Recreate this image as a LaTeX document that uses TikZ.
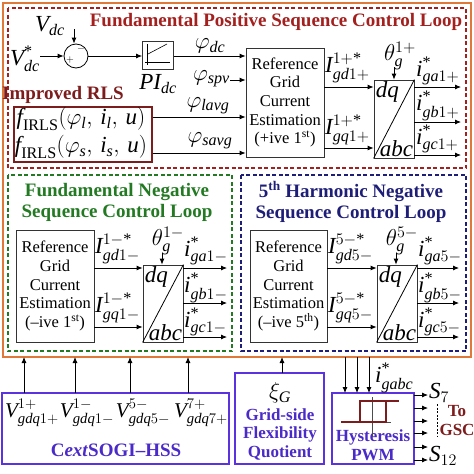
\RequirePackage{fix-cm}
\documentclass[tikz,border=0pt]{standalone}
\usepackage{amsmath}
\usepackage{fontspec}
\setmainfont{Liberation Serif}
\usetikzlibrary{arrows.meta}
\definecolor{orangeB}{HTML}{E0783A}
\definecolor{redD}{HTML}{A3201E}
\definecolor{greenD}{HTML}{237A23}
\definecolor{navyD}{HTML}{1E1E78}
\definecolor{purp}{HTML}{5A32E0}
\definecolor{purpT}{HTML}{4A2AC8}
\definecolor{rlsR}{HTML}{7D1C1C}
\definecolor{lineG}{HTML}{333333}
\newcommand\mt[1]{\text{\itshape #1}}
\newcommand\st{\text{*}}
\tikzset{
  blk/.style={draw=lineG, line width=0.8pt, inner sep=0pt},
  arr/.style={-{Latex[length=6pt,width=5pt]}, line width=0.8pt, draw=black},
  lbl/.style={font=\fontsize{23}{25}\selectfont, inner sep=0pt},
  vlbl/.style={font=\fontsize{21}{23}\selectfont, inner sep=0pt},
  reftxt/.style={font=\fontsize{16.5}{18.7}\selectfont, align=center},
  ttl/.style={font=\fontsize{19}{21}\selectfont\bfseries, align=center, inner sep=0pt},
  loopbox/.style={dash pattern=on 4pt off 2.5pt, line width=1.2pt},
  pbox/.style={draw=purp, line width=1.4pt, inner sep=0pt},
  ptxt/.style={font=\fontsize{17}{18.5}\selectfont\bfseries, text=purpT, align=center},
}
\begin{document}
\begin{tikzpicture}[x=1pt,y=-1pt]
\useasboundingbox (0,0) rectangle (474,474);
% outer boxes
\draw[draw=orangeB, line width=1.6pt] (3,3) rectangle (471,357);
\draw[loopbox, draw=redD] (8,8) rectangle (466,168);
\draw[loopbox, draw=greenD] (8,175) rectangle (232,351);
\draw[loopbox, draw=navyD] (241,175) rectangle (466,351);

% ===== positive loop =====
\node[ttl, text=redD] (t1) at (276,22) {Fundamental Positive Sequence Control Loop};
\node[lbl] (vdc) at (50,26) {$\mt{V}_{\mt{dc}}$};
\node[lbl, anchor=east] (vdcs) at (40,59) {$\mt{V}^{\st}_{\mt{dc}}$};
\node[draw=black, line width=0.8pt, circle, minimum size=24pt, inner sep=0pt] (sum) at (76,56) {};
\node[font=\fontsize{10}{10}\selectfont, inner sep=0pt] (pl) at (70,60) {$+$};
\node[font=\fontsize{10}{10}\selectfont, inner sep=0pt] (mi) at (81,49) {$-$};
\coordinate (vin) at (74,29);
\draw[arr] (vin) -- (vin |- sum.north);
\draw[arr] (vdcs.east |- sum) -- (sum.west);
\node[blk, minimum width=31pt, minimum height=28pt] (PI) at (158,55) {};
\draw[line width=0.6pt] (147,44) -- (147,65);
\draw[line width=0.6pt] (145,62) -- (170,62);
\draw[line width=0.6pt] (148,54) -- (167,44);
\draw[arr] (sum.east) -- (sum.east -| PI.west);
\node[lbl] (pidc) at (158,84) {$\mt{PI}_{\mt{dc}}$};
\node[blk, minimum width=78pt, minimum height=109pt] (R1) at (285,102.5) {};
\node[reftxt] (R1t) at (R1) {Reference\\Grid\\Current\\Estimation\\(+ive 1\textsuperscript{st})};
\draw[arr] (sum.east -| PI.east) -- (sum.east -| R1.west);
\node[lbl] (phdc) at (210,46) {$\varphi_{\mt{dc}}$};
\node[lbl, anchor=east] (phspv) at (230,79) {$\varphi_{\mt{spv}}$};
\draw[arr] (phspv.east |- 0,80) -- (R1.west |- 0,80);
\node[ttl, text=rlsR] (irlst) at (63,95) {Improved RLS};
\node[draw=rlsR, line width=1.4pt, minimum width=138pt, minimum height=55pt] (IRLS) at (83,134.5) {};
\node[lbl] (f1) at (81,119) {$\mt{f}_{\textrm{IRLS}}(\varphi_{\mt{l}},\, \mt{i}_{\mt{l}},\, \mt{u})$};
\node[lbl] (f2) at (81,147) {$\mt{f}_{\textrm{IRLS}}(\varphi_{\mt{s}},\, \mt{i}_{\mt{s}},\, \mt{u})$};
\coordinate (ly1) at (152,117);
\coordinate (ly2) at (152,153);
\draw[arr] (IRLS.east |- ly1) -- (R1.west |- ly1);
\draw[arr] (IRLS.east |- ly2) -- (R1.west |- ly2);
\node[lbl] (phl) at (208,106) {$\varphi_{\mt{lavg}}$};
\node[lbl] (phs) at (210,141) {$\varphi_{\mt{savg}}$};
\node[blk, minimum width=40pt, minimum height=78pt] (D1) at (394,119) {};
\draw[line width=0.8pt] (D1.south west) -- (D1.north east);
\node[lbl, anchor=north west, inner sep=2pt] at (D1.north west) {$\mt{dq}$};
\node[lbl, anchor=south east, inner sep=1pt] at (D1.south east) {$\mt{abc}$};
\coordinate (a1) at (324,87);
\coordinate (a2) at (324,148);
\draw[arr] (a1 -| R1.east) -- (a1 -| D1.west);
\draw[arr] (a2 -| R1.east) -- (a2 -| D1.west);
\node[lbl, anchor=west] (I1d) at (325,68) {$\mt{I}^{1{+}\st}_{\mt{gd}1{+}}$};
\node[lbl, anchor=west] (I1q) at (325,130) {$\mt{I}^{1{+}\st}_{\mt{gq}1{+}}$};
\node[lbl] (th1) at (400,56) {$\theta^{1{+}}_{\mt{g}}$};
\coordinate (thc1) at (394,67);
\draw[arr] (thc1) -- (thc1 |- D1.north);
\coordinate (o1) at (461,87);
\coordinate (o2) at (461,122);
\coordinate (o3) at (461,155);
\draw[arr] (o1 -| D1.east) -- (o1);
\draw[arr] (o2 -| D1.east) -- (o2);
\draw[arr] (o3 -| D1.east) -- (o3);
\node[lbl, anchor=west] (ia1) at (416,71) {$\mt{i}^{\st}_{\mt{ga}1{+}}$};
\node[lbl, anchor=west] (ib1) at (416,106) {$\mt{i}^{\st}_{\mt{gb}1{+}}$};
\node[lbl, anchor=west] (ic1) at (416,139) {$\mt{i}^{\st}_{\mt{gc}1{+}}$};

% ===== negative fundamental loop =====
\node[ttl, text=greenD] (t2) at (117,202) {Fundamental Negative\\Sequence Control Loop};
\node[blk, minimum width=78pt, minimum height=112pt] (R2) at (55,286) {};
\node[reftxt] at (R2) {Reference\\Grid\\Current\\Estimation\\(\textendash ive 1\textsuperscript{st})};
\node[blk, minimum width=40pt, minimum height=77pt] (D2) at (163,303.5) {};
\draw[line width=0.8pt] (D2.south west) -- (D2.north east);
\node[lbl, anchor=north west, inner sep=2pt] at (D2.north west) {$\mt{dq}$};
\node[lbl, anchor=south east, inner sep=1pt] at (D2.south east) {$\mt{abc}$};
\coordinate (b1) at (94,268);
\coordinate (b2) at (94,327);
\draw[arr] (b1 -| R2.east) -- (b1 -| D2.west);
\draw[arr] (b2 -| R2.east) -- (b2 -| D2.west);
\node[lbl, anchor=west] at (95,249) {$\mt{I}^{1{-}\st}_{\mt{gd}1{-}}$};
\node[lbl, anchor=west] at (95,308) {$\mt{I}^{1{-}\st}_{\mt{gq}1{-}}$};
\node[lbl] at (168,241) {$\theta^{1{-}}_{\mt{g}}$};
\coordinate (thc2) at (162,253);
\draw[arr] (thc2) -- (thc2 |- D2.north);
\coordinate (p1) at (227,268);
\coordinate (p2) at (227,303);
\coordinate (p3) at (227,337);
\draw[arr] (p1 -| D2.east) -- (p1);
\draw[arr] (p2 -| D2.east) -- (p2);
\draw[arr] (p3 -| D2.east) -- (p3);
\node[lbl, anchor=west] at (184,251) {$\mt{i}^{\st}_{\mt{ga}1{-}}$};
\node[lbl, anchor=west] at (184,288) {$\mt{i}^{\st}_{\mt{gb}1{-}}$};
\node[lbl, anchor=west] at (184,322) {$\mt{i}^{\st}_{\mt{gc}1{-}}$};

% ===== 5th harmonic loop =====
\node[ttl, text=navyD] (t3) at (351,202) {5\textsuperscript{th} Harmonic Negative\\Sequence Control Loop};
\node[blk, minimum width=77pt, minimum height=112pt] (R3) at (288.5,286) {};
\node[reftxt] at (R3) {Reference\\Grid\\Current\\Estimation\\(\textendash ive 5\textsuperscript{th})};
\node[blk, minimum width=40pt, minimum height=77pt] (D3) at (397,303.5) {};
\draw[line width=0.8pt] (D3.south west) -- (D3.north east);
\node[lbl, anchor=north west, inner sep=2pt] at (D3.north west) {$\mt{dq}$};
\node[lbl, anchor=south east, inner sep=1pt] at (D3.south east) {$\mt{abc}$};
\coordinate (c1) at (327,268);
\coordinate (c2) at (327,327);
\draw[arr] (c1 -| R3.east) -- (c1 -| D3.west);
\draw[arr] (c2 -| R3.east) -- (c2 -| D3.west);
\node[lbl, anchor=west] at (328,249) {$\mt{I}^{5{-}\st}_{\mt{gd}5{-}}$};
\node[lbl, anchor=west] at (328,308) {$\mt{I}^{5{-}\st}_{\mt{gq}5{-}}$};
\node[lbl] at (402,241) {$\theta^{5{-}}_{\mt{g}}$};
\coordinate (thc3) at (396,253);
\draw[arr] (thc3) -- (thc3 |- D3.north);
\coordinate (q1) at (459,268);
\coordinate (q2) at (459,303);
\coordinate (q3) at (459,337);
\draw[arr] (q1 -| D3.east) -- (q1);
\draw[arr] (q2 -| D3.east) -- (q2);
\draw[arr] (q3 -| D3.east) -- (q3);
\node[lbl, anchor=west] at (418,251) {$\mt{i}^{\st}_{\mt{ga}5{-}}$};
\node[lbl, anchor=west] at (418,288) {$\mt{i}^{\st}_{\mt{gb}5{-}}$};
\node[lbl, anchor=west] at (418,322) {$\mt{i}^{\st}_{\mt{gc}5{-}}$};

% ===== bottom blocks =====
\coordinate (ob) at (240,357);
\node[pbox, minimum width=227pt, minimum height=71pt] (S) at (115.5,428.5) {};
\node[vlbl] at (32,413) {$\mt{V}^{1{+}}_{\mt{gdq}1{+}}$};
\node[vlbl] at (87,413) {$\mt{V}^{1{-}}_{\mt{gdq}1{-}}$};
\node[vlbl] at (143,413) {$\mt{V}^{5{-}}_{\mt{gdq}5{-}}$};
\node[vlbl] at (201,413) {$\mt{V}^{7{+}}_{\mt{gdq}7{+}}$};
\node[ptxt, font=\fontsize{19}{21}\selectfont\bfseries] at (116,450) {C\textit{ext}SOGI\textendash HSS};
\foreach \xx in {24,75,130,188}{
  \draw[arr] (\xx,393) -- (\xx,357);
}
\node[pbox, minimum width=89pt, minimum height=91pt] (G) at (279.5,418.5) {};
\node[lbl] at (280,393) {$\xi_{\mt{G}}$};
\node[ptxt] at (280,434) {Grid-side\\Flexibility\\Quotient};
\coordinate (gx) at (282,373);
\draw[arr] (gx) -- (gx |- ob);
\node[pbox, minimum width=82pt, minimum height=71pt] (H) at (373,428.5) {};
\node[ptxt] at (373,445) {Hysteresis\\PWM};
\foreach \xx in {345,357,369}{
  \draw[arr] (\xx,357) -- (\xx,393);
}
\node[lbl, anchor=west] at (375,378) {$\mt{i}^{\st}_{\mt{gabc}}$};
% hysteresis symbol
\draw[line width=0.6pt, draw=black!70] (341,422) -- (391,422);
\draw[line width=0.6pt, draw=black!70] (372,397) -- (372,437);
\draw[line width=1.1pt, draw=rlsR] (341,422) -- (386,422) -- (386,401) -- (399,401);
\draw[line width=1.1pt, draw=rlsR] (360,422) -- (360,401) -- (386,401);
% outputs
\foreach \yy in {395,408,421,433,447,460}{
  \draw[arr] (414,\yy) -- (428,\yy);
}
\node[lbl, anchor=west] at (429,393) {$\mt{S}_{7}$};
\node[lbl, anchor=west] at (429,456) {$\mt{S}_{12}$};
\draw[line width=1pt, dash pattern=on 2pt off 1.5pt] (437,404) -- (437,437);
\node[font=\fontsize{17}{19}\selectfont\bfseries, text=rlsR, align=center] at (457,421) {To\\GSC};
\end{tikzpicture}
\end{document}
